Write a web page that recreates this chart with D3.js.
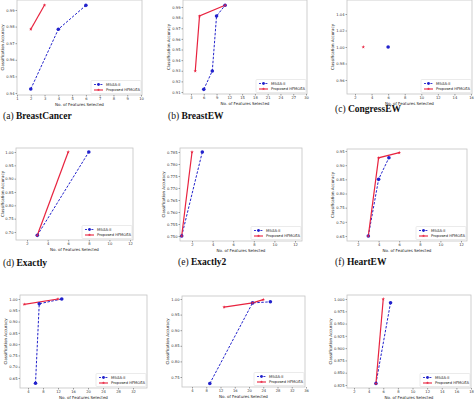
<!DOCTYPE html>
<html>
<head>
<meta charset="utf-8">
<script src="https://cdn.jsdelivr.net/npm/d3@7"></script>
<style>
  body { margin: 0; background: #fff; }
  svg { display: block; }
  .tick text { font-family: "DejaVu Sans", sans-serif; font-size: 3.7px; fill: #333; }
  .lab { font-family: "DejaVu Sans", sans-serif; font-size: 4px; fill: #222; }
  .leg { font-family: "DejaVu Sans", sans-serif; font-size: 3.7px; fill: #222; }
  .cap { font-family: "Liberation Serif", serif; font-size: 9.5px; fill: #111; }
</style>
</head>
<body>
<div id="chart"></div>
<script>
// data
const letters = ["a", "b", "c", "d", "e", "f", "", "", ""];
const datasets = ["BreastCancer", "BreastEW", "CongressEW", "Exactly", "Exactly2", "HeartEW", "", "", ""];
const seriesNames = ["MSGA-II", "Proposed HFMOEA"];

const msgaX = [[2, 4, 6], [6, 8, 9, 11], [6], [3, 8], [1, 3], [3, 4, 5], [6, 7, 13], [9, 21, 26], [5, 7]];
const msgaY = [[0.9424, 0.9784, 0.9928], [0.9125, 0.9298, 0.9815, 0.9916], [1.0], [0.6875, 1.0], [0.750, 0.785],
               [0.65, 0.85, 0.926], [0.6265, 0.979, 1.0], [0.729, 0.9875, 0.991], [0.828, 0.9925]];
const hfmX = [[2, 3], [4, 5, 11], [3], [3, 6], [1, 2], [3, 4, 6], [3, 12], [13, 21, 24], [5, 6]];
const hfmY = [[0.9784, 0.993], [0.9298, 0.9815, 0.9916], [1.0], [0.6875, 1.0], [0.750, 0.785],
              [0.65, 0.926, 0.944], [0.9765, 1.0], [0.974, 0.9875, 0.998], [0.828, 1.0]];

const xTicks = [d3.range(1, 11), d3.range(3, 31, 3), d3.range(2, 17, 2), d3.range(2, 13, 2), d3.range(2, 13, 2),
                d3.range(2, 13, 2), d3.range(4, 33, 4), d3.range(4, 37, 4), d3.range(2, 19, 2)];
const yTicks = [[0.94, 0.95, 0.96, 0.97, 0.98, 0.99],
                [0.91, 0.92, 0.93, 0.94, 0.95, 0.96, 0.97, 0.98, 0.99],
                [0.96, 0.98, 1.00, 1.02, 1.04],
                [0.70, 0.75, 0.80, 0.85, 0.90, 0.95, 1.00],
                [0.750, 0.755, 0.760, 0.765, 0.770, 0.775, 0.780, 0.785],
                [0.65, 0.70, 0.75, 0.80, 0.85, 0.90, 0.95],
                [0.65, 0.70, 0.75, 0.80, 0.85, 0.90, 0.95, 1.00],
                [0.75, 0.80, 0.85, 0.90, 0.95, 1.00],
                [0.825, 0.850, 0.875, 0.900, 0.925, 0.950, 0.975, 1.000]];
const yDecimals = [2, 2, 2, 2, 3, 2, 2, 2, 3];

// layout: frame box, and two tick anchors per axis (value -> pixel)
const frames = [[17, 0, 142, 95], [183, 0, 307, 94], [347, 0, 472, 94],
                [16, 148, 133, 240], [180, 148, 302, 241], [347, 149, 467, 241],
                [20, 295, 147, 388], [182, 296, 305, 387], [347, 295, 471, 388]];
const xAnchors = [[1, 17, 10, 141], [3, 191, 30, 306], [2, 355, 16, 471],
                  [2, 27, 12, 130], [2, 192, 12, 295], [2, 358, 12, 461],
                  [4, 28, 32, 133], [4, 192, 36, 306], [2, 354, 18, 471]];
const yAnchors = [[0.99, 10, 0.94, 93], [0.99, 7, 0.91, 92], [1.04, 14, 0.96, 80],
                  [1.00, 152, 0.70, 232], [0.785, 152, 0.750, 236], [0.95, 151, 0.65, 236],
                  [1.00, 299, 0.65, 378], [1.00, 299, 0.75, 377], [1.000, 299, 0.825, 385]];
const capPos = [[3, 119], [168, 119], [335, 112], [3, 266], [178, 265], [335, 265]];

const blue = "#2222cc", red = "#e8233f";

const svg = d3.select("#chart").append("svg")
    .attr("width", 474)
    .attr("height", 399);

for (let i = 0; i < 9; i++) {
    const [x0, y0, x1, y1] = frames[i];
    const xa = xAnchors[i], ya = yAnchors[i];
    const x = d3.scaleLinear().domain([xa[0], xa[2]]).range([xa[1], xa[3]]);
    const y = d3.scaleLinear().domain([ya[0], ya[2]]).range([ya[1], ya[3]]);
    const g = svg.append("g");

    g.append("rect")
        .attr("x", x0).attr("y", y0)
        .attr("width", x1 - x0).attr("height", y1 - y0)
        .attr("fill", "#fff")
        .attr("stroke", "#c4c4c4")
        .attr("stroke-width", 0.8);

    // axes
    const xAx = g.append("g")
        .attr("transform", "translate(0," + y1 + ")")
        .call(d3.axisBottom(x).tickValues(xTicks[i]).tickSize(1.5).tickPadding(1.2).tickFormat(d3.format("d")));
    const yAx = g.append("g")
        .attr("transform", "translate(" + x0 + ",0)")
        .call(d3.axisLeft(y).tickValues(yTicks[i]).tickSize(1.5).tickPadding(1).tickFormat(d3.format("." + yDecimals[i] + "f")));
    [xAx, yAx].forEach(ax => {
        ax.select(".domain").remove();
        ax.selectAll("line").attr("stroke", "#444").attr("stroke-width", 0.5);
    });

    g.append("text")
        .attr("class", "lab")
        .attr("text-anchor", "middle")
        .attr("x", (x0 + x1) / 2)
        .attr("y", y1 + 10.5)
        .text("No. of Features Selected");

    // y label sits left of the widest tick label
    const tickW = yDecimals[i] === 3 ? 10.5 : 8.5;
    g.append("text")
        .attr("class", "lab")
        .attr("text-anchor", "middle")
        .attr("transform", "translate(" + Math.max(3.5, x0 - tickW - 5) + "," + ((y0 + y1) / 2) + ")rotate(-90)")
        .text("Classification Accuracy");

    // series
    const line = d3.line().x(d => x(d[0])).y(d => y(d[1]));
    const ms = msgaX[i].map((v, k) => [v, msgaY[i][k]]);
    const hf = hfmX[i].map((v, k) => [v, hfmY[i][k]]);

    g.append("path").datum(ms)
        .attr("d", line).attr("fill", "none")
        .attr("stroke", blue).attr("stroke-width", 1)
        .attr("stroke-dasharray", "2.5,1.5");
    g.append("path").datum(hf)
        .attr("d", line).attr("fill", "none")
        .attr("stroke", red).attr("stroke-width", 1.2);

    g.selectAll(".mdot").data(ms).enter()
        .append("circle")
        .attr("cx", d => x(d[0])).attr("cy", d => y(d[1]))
        .attr("r", 1.8).attr("fill", blue);
    g.selectAll(".hdot").data(hf).enter()
        .append("path")
        .attr("transform", d => "translate(" + x(d[0]) + "," + y(d[1]) + ")")
        .attr("d", d3.symbol(d3.symbolStar, 4))
        .attr("fill", red);

    // legend
    const lw = 50, lh = 13;
    const lx = x1 - lw - 1, ly = y1 - lh - 1.5;
    const leg = g.append("g").attr("transform", "translate(" + lx + "," + ly + ")");
    leg.append("rect")
        .attr("width", lw).attr("height", lh)
        .attr("fill", "#fff").attr("stroke", "#d6d6d6").attr("stroke-width", 0.5).attr("rx", 1);
    seriesNames.forEach((name, k) => {
        const cy = 4 + k * 5.5;
        leg.append("line")
            .attr("x1", 3).attr("x2", 12).attr("y1", cy).attr("y2", cy)
            .attr("stroke", k ? red : blue).attr("stroke-width", k ? 1.1 : 0.9)
            .attr("stroke-dasharray", k ? null : "2,1.2");
        if (k) {
            leg.append("path").attr("transform", "translate(7.5," + cy + ")")
                .attr("d", d3.symbol(d3.symbolStar, 3)).attr("fill", red);
        } else {
            leg.append("circle").attr("cx", 7.5).attr("cy", cy).attr("r", 1.4).attr("fill", blue);
        }
        leg.append("text").attr("class", "leg")
            .attr("x", 15).attr("y", cy + 1.3)
            .text(name);
    });

    if (letters[i]) {
        const cap = svg.append("text").attr("class", "cap")
            .attr("x", capPos[i][0]).attr("y", capPos[i][1]);
        cap.append("tspan").text("(" + letters[i] + ") ");
        cap.append("tspan").attr("font-weight", "bold").text(datasets[i]);
    }
}
</script>
</body>
</html>
